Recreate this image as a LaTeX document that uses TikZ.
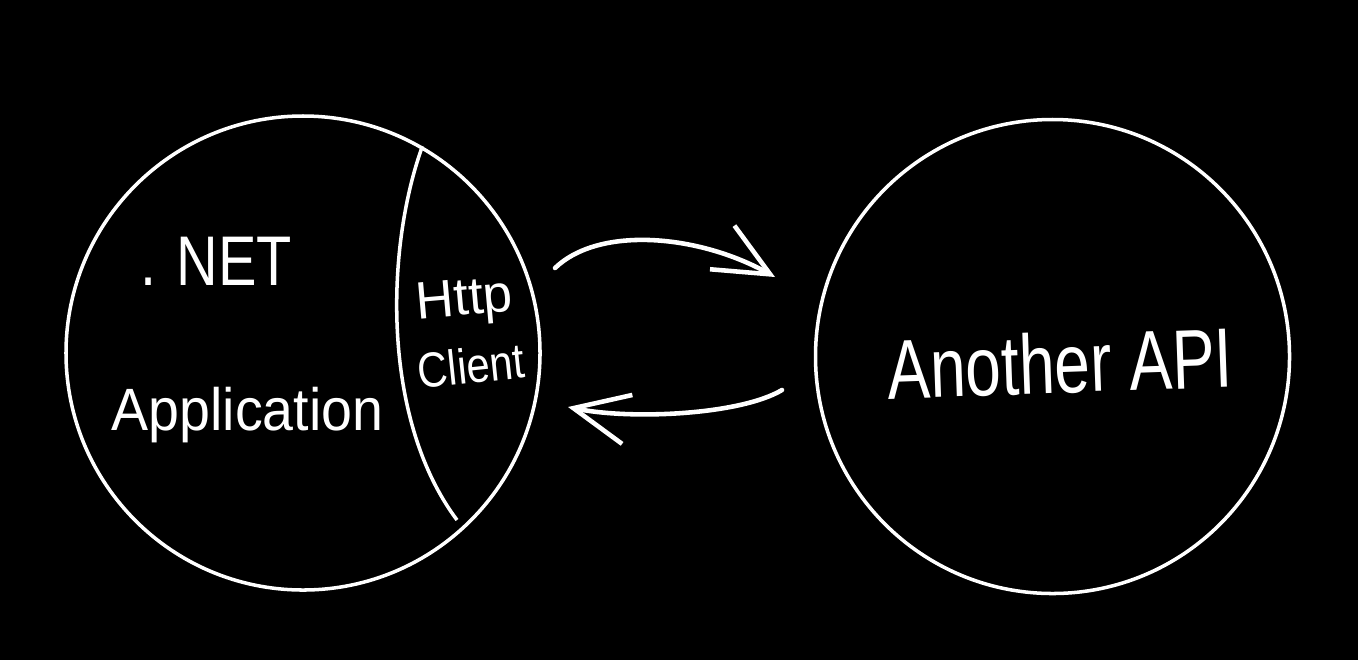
\documentclass[tikz,border=0pt]{standalone}
\usepackage{fontspec}
\setmainfont{Liberation Sans}
\usetikzlibrary{positioning, calc, arrows.meta}

\begin{document}
\begin{tikzpicture}[
    blob/.style={circle, draw=white, line width=1pt, minimum size=4.74cm, inner sep=0pt},
    hand/.style={text=white, inner sep=0pt, anchor=base},
    wall/.style={draw=white, line width=1pt},
    flow/.style={draw=white, line width=1.3pt, line cap=round,
      -{Straight Barb[length=5.5mm, width=5mm, line width=1.3pt]}}
  ]
      \fill[black] (0,0) rectangle (13.58,6.60);
      \useasboundingbox (0,0) rectangle (13.58,6.60);
      % the two sides
      \node[blob] (app) at (3.03,3.07) {};
      \node[blob] (api) at (10.525,3.035) {};
      % client slice inside the app
      \coordinate (wallEnd) at (4.57,1.40);
      \draw[wall] (app.60.5) .. controls (3.85,4.10) and (3.82,2.40) .. (wallEnd);
      % labels
      \node[hand, font=\fontsize{20}{24}\selectfont] (net) at (2.16,3.75) {\scalebox{0.82}[1]{.\kern0.35em NET}};
      \node[hand, font=\fontsize{17}{20}\selectfont] (appText) at (2.475,2.30) {\scalebox{0.93}[1]{Application}};
      \node[hand, font=\fontsize{15}{18}\selectfont, rotate=5] (http) at (4.66,3.45) {Http};
      \node[hand, font=\fontsize{14}{17}\selectfont, rotate=6] (client) at (4.73,2.77) {\scalebox{0.85}[1]{Client}};
      \node[hand, font=\fontsize{24}{28}\selectfont, rotate=2] (apiText) at (10.61,2.67) {\scalebox{0.76}[1]{Another API}};
      % request and response
      \coordinate (reqS) at (5.55,3.92);
      \coordinate (reqE) at (7.75,3.83);
      \coordinate (resS) at (7.82,2.70);
      \coordinate (resE) at (5.68,2.53);
      \draw[flow] (reqS) .. controls (6.00,4.35) and (7.00,4.25) .. (reqE);
      \draw[flow] (resS) .. controls (7.40,2.45) and (6.30,2.40) .. (resE);
    \end{tikzpicture}
\end{document}
